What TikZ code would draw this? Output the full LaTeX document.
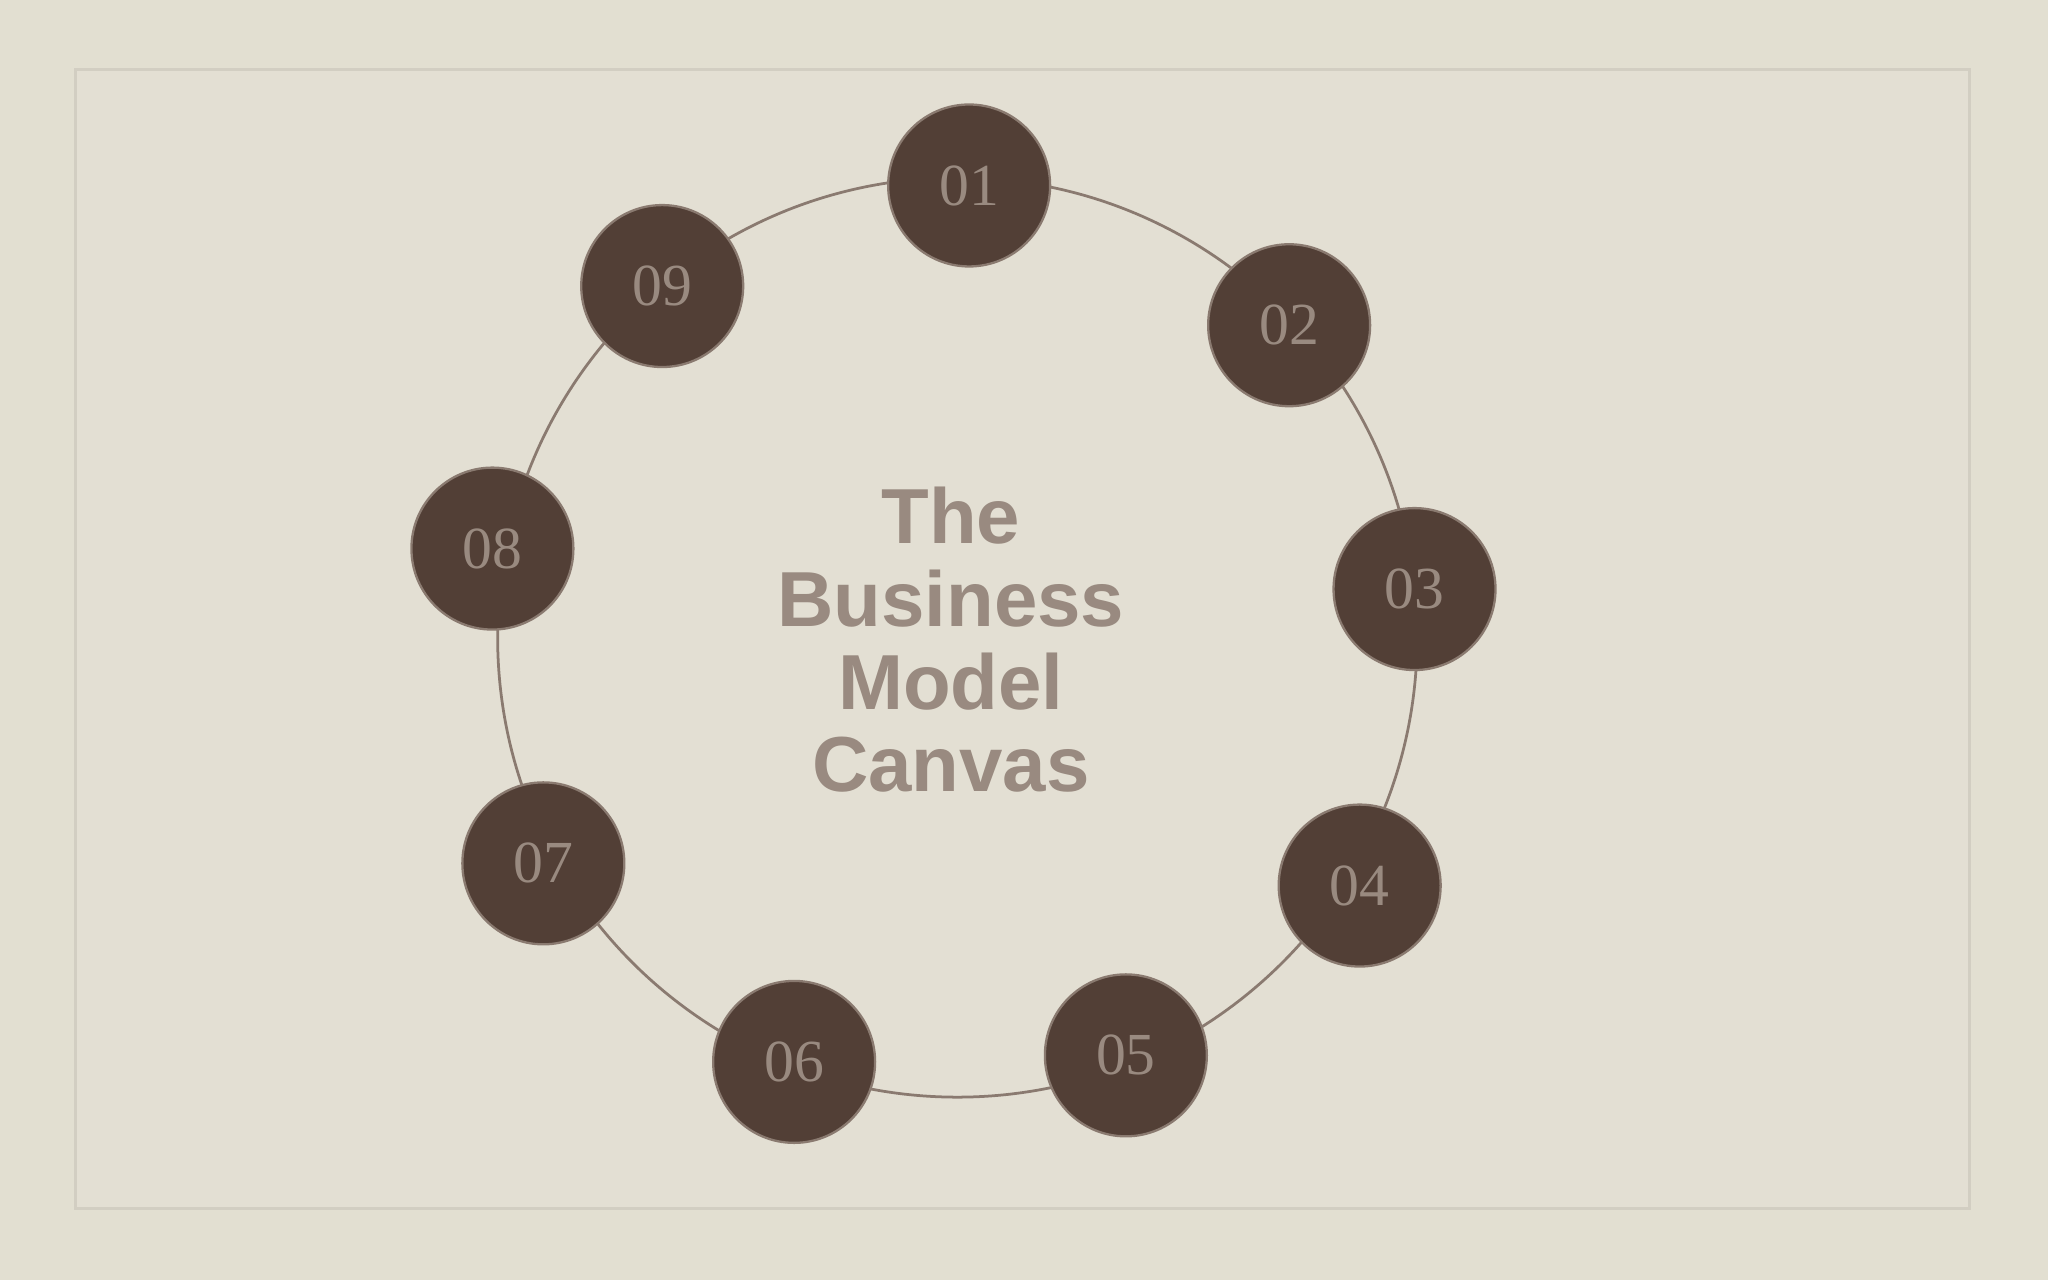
\documentclass[tikz,border=0pt]{standalone}
\usepackage{fontspec}
\setmainfont{Liberation Serif}
\newfontfamily\titlefont{Liberation Sans}
\definecolor{bgout}{HTML}{E2DFD1}
\definecolor{bgin}{HTML}{E3DFD3}
\definecolor{frameline}{HTML}{D2CEC2}
\definecolor{dotfill}{HTML}{523F36}
\definecolor{dotline}{HTML}{8A7A70}
\definecolor{txtgray}{HTML}{998A80}
\begin{document}
\begin{tikzpicture}[x=0.1mm,y=-0.1mm,
  dot/.style={circle,draw=dotline,line width=0.5pt,fill=dotfill,minimum size=12.4mm,inner sep=0pt,
    text=txtgray,font=\fontsize{13}{13}\selectfont}]
\fill[bgout] (0,0) rectangle (1568,980);
\useasboundingbox (0,0) rectangle (1568,980);
\draw[frameline,fill=bgin,line width=0.6pt] (58,53) rectangle (1508,925);
\coordinate (ctr) at (733,488);
\draw[dotline,line width=0.6pt] (ctr) circle[radius=35.2mm];
\node[dot] (n1) at (742,142) {01};
\node[dot] (n2) at (987,249) {02};
\node[dot] (n3) at (1083,451) {03};
\node[dot] (n4) at (1041,678) {04};
\node[dot] (n5) at (862,808) {05};
\node[dot] (n6) at (608,813) {06};
\node[dot] (n7) at (416,661) {07};
\node[dot] (n8) at (377,420) {08};
\node[dot] (n9) at (507,219) {09};
\node[text=txtgray,font=\titlefont\bfseries\fontsize{17}{18}\selectfont,align=center] (title) at (728,490) {The\\Business\\Model\\Canvas};
\end{tikzpicture}
\end{document}
